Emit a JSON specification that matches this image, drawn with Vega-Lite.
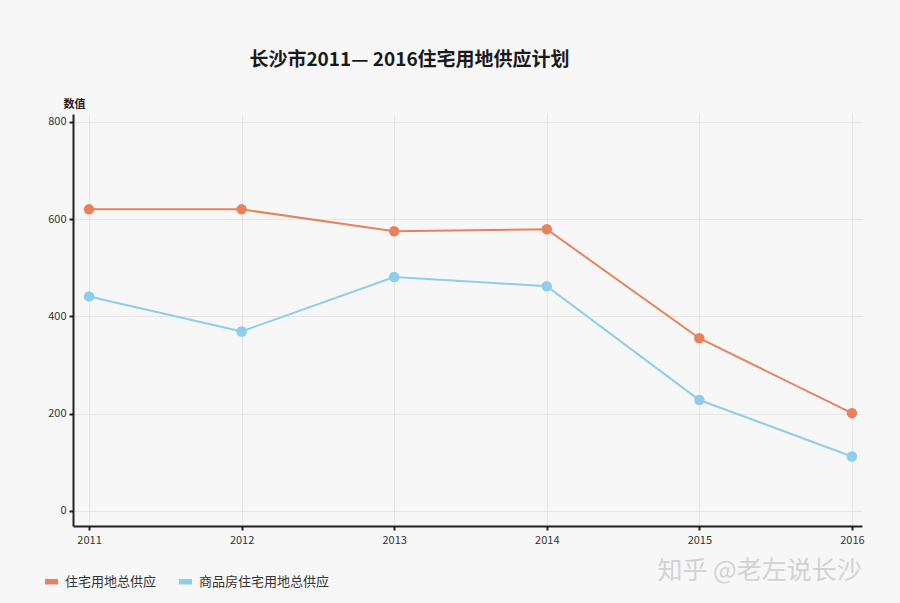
{
  "$schema": "https://vega.github.io/schema/vega-lite/v6.json",
  "width": 789,
  "height": 412,
  "autosize": {"type": "none"},
  "padding": {"left": 73, "top": 114, "right": 38, "bottom": 77},
  "background": "#f7f7f8",
  "title": {
    "text": "长沙市2011— 2016住宅用地供应计划",
    "anchor": "middle",
    "dx": -58,
    "offset": 28,
    "font": "Noto Sans CJK SC",
    "fontSize": 19,
    "fontWeight": "bold",
    "color": "#1a1a1a"
  },
  "config": {
    "view": {"stroke": null},
    "font": "Noto Sans CJK SC",
    "axis": {
      "labelFont": "Noto Sans CJK SC",
      "labelFontSize": 11,
      "labelColor": "#333333",
      "tickColor": "#222222",
      "tickSize": 4,
      "tickWidth": 2,
      "domainColor": "#222222",
      "domainWidth": 2,
      "gridColor": "#e6e6e8",
      "gridWidth": 1
    }
  },
  "data": {
    "values": [
      {"year": 2011, "series": "住宅用地总供应", "value": 620},
      {"year": 2012, "series": "住宅用地总供应", "value": 620},
      {"year": 2013, "series": "住宅用地总供应", "value": 575},
      {"year": 2014, "series": "住宅用地总供应", "value": 579},
      {"year": 2015, "series": "住宅用地总供应", "value": 355},
      {"year": 2016, "series": "住宅用地总供应", "value": 201},
      {"year": 2011, "series": "商品房住宅用地总供应", "value": 441},
      {"year": 2012, "series": "商品房住宅用地总供应", "value": 369},
      {"year": 2013, "series": "商品房住宅用地总供应", "value": 481},
      {"year": 2014, "series": "商品房住宅用地总供应", "value": 462},
      {"year": 2015, "series": "商品房住宅用地总供应", "value": 228},
      {"year": 2016, "series": "商品房住宅用地总供应", "value": 112}
    ]
  },
  "encoding": {
    "x": {
      "field": "year",
      "type": "quantitative",
      "scale": {"domain": [2010.895, 2016.066], "nice": false, "zero": false},
      "axis": {
        "values": [2011, 2012, 2013, 2014, 2015, 2016],
        "format": "d",
        "labelPadding": 4,
        "title": "知乎  @老左说长沙",
        "titleFont": "Noto Sans CJK SC",
        "titleFontSize": 25,
        "titleFontWeight": "normal",
        "titleColor": "#d2d2d4",
        "titleAnchor": "start",
        "titleAlign": "left",
        "titleX": 584,
        "titleY": 32
      }
    },
    "y": {
      "field": "value",
      "type": "quantitative",
      "scale": {"domain": [-31, 816], "nice": false, "zero": false},
      "axis": {
        "values": [0, 200, 400, 600, 800],
        "labelPadding": 3,
        "title": "数值",
        "titleAngle": 0,
        "titleFont": "Noto Sans CJK SC",
        "titleFontSize": 11,
        "titleFontWeight": "bold",
        "titleColor": "#222222",
        "titleAlign": "center",
        "titleBaseline": "bottom",
        "titleX": 1,
        "titleY": -5
      }
    },
    "color": {
      "field": "series",
      "type": "nominal",
      "scale": {
        "domain": ["住宅用地总供应", "商品房住宅用地总供应"],
        "range": ["#e8825b", "#8ecdec"]
      },
      "legend": {
        "title": null,
        "orient": "none",
        "direction": "horizontal",
        "legendX": -28,
        "legendY": 461,
        "symbolType": "M-1,-0.42H1V0.42H-1Z",
        "symbolSize": 169,
        "symbolStrokeWidth": 0,
        "symbolOpacity": 1,
        "labelFont": "Noto Sans CJK SC",
        "labelFontSize": 13,
        "labelColor": "#333333",
        "labelOffset": 7,
        "columnPadding": 22
      }
    }
  },
  "layer": [
    {"mark": {"type": "line", "strokeWidth": 2}},
    {"mark": {"type": "point", "filled": true, "size": 110, "opacity": 1}}
  ]
}
